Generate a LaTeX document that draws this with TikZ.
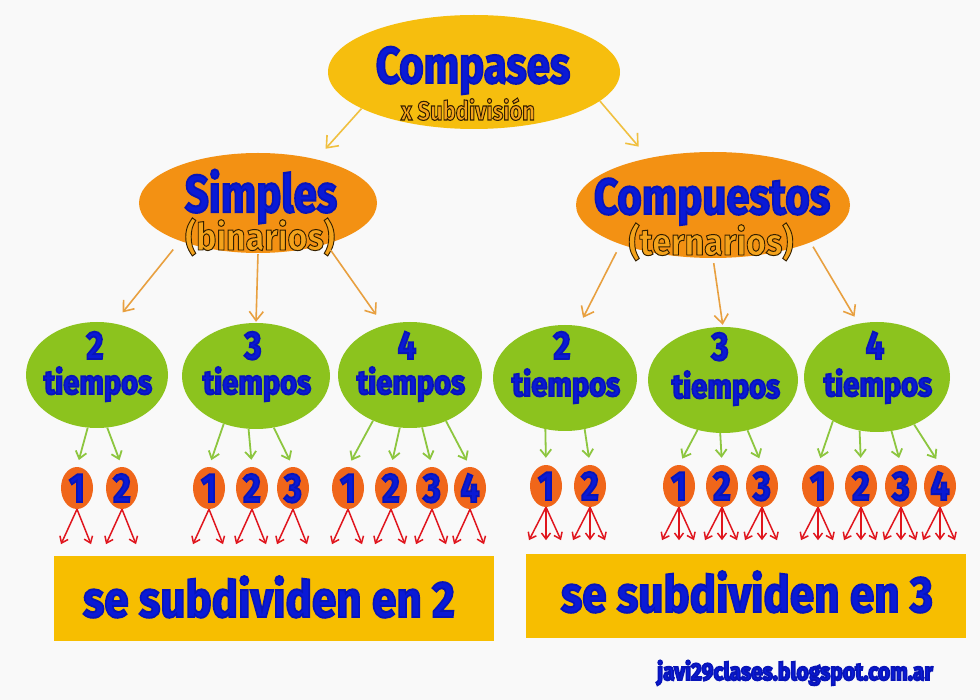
\documentclass[tikz,border=0pt]{standalone}
\usepackage{fontspec}
\setmainfont{Fira Sans}
\usetikzlibrary{arrows.meta,shapes.geometric}
\definecolor{bg}{HTML}{F9F9F9}
\definecolor{ycol}{HTML}{F6BE0E}
\definecolor{ocol}{HTML}{F39113}
\definecolor{gcol}{HTML}{8CC31E}
\definecolor{ccol}{HTML}{F0661A}
\definecolor{boxcol}{HTML}{F7BE00}
\definecolor{tblue}{HTML}{0A1AD6}
\definecolor{suborange}{HTML}{F4A31C}
\definecolor{yarrc}{HTML}{F0C040}
\definecolor{oarrc}{HTML}{E8A040}
\definecolor{garrc}{HTML}{8DC63F}
\definecolor{rarrc}{HTML}{E0161E}
\newcommand\bluetext[2]{\scalebox{1}[#1]{\special{pdf:literal direct 2 Tr 1.6 w 0.03 0.08 0.72 RG}#2\special{pdf:literal direct 0 Tr}}}
\newcommand\subtext[2]{\scalebox{1}[#1]{\special{pdf:literal direct 2 Tr 0.9 w 0.2 0.12 0 RG}#2\special{pdf:literal direct 0 Tr}}}
\tikzset{
  ell/.style={ellipse, inner sep=0pt, draw=none},
  bt/.style={anchor=base, inner sep=0pt, text=tblue, font=\bfseries\fontsize{#1}{#1}\selectfont},
  sbt/.style={anchor=base, inner sep=0pt, text=suborange, font=\bfseries\fontsize{#1}{#1}\selectfont},
  yarr/.style={draw=yarrc, line width=1.6pt, -{Straight Barb[length=10pt,width=16pt]}},
  oarr/.style={draw=oarrc, line width=1.6pt, -{Straight Barb[length=9pt,width=14pt]}},
  garr/.style={draw=garrc, line width=1.8pt, -{Straight Barb[length=7pt,width=11pt]}},
  rarr/.style={draw=rarrc, line width=1.5pt, -{Straight Barb[length=6pt,width=9pt]}},
  tie/.style={ell, fill=gcol, minimum width=#1, minimum height=106},
  num/.style={ell, fill=ccol, minimum width=32, minimum height=42},
  box/.style={rectangle, fill=boxcol, inner sep=0pt, minimum width=440}
}
\begin{document}
\begin{tikzpicture}[x=1pt,y=-1pt]
\path[use as bounding box, fill=bg] (0,0) rectangle (980,700);

% main ellipses
\node[ell, fill=ycol, minimum width=292, minimum height=114] (comp) at (474,72) {};
\node[ell, fill=ocol, minimum width=238, minimum height=100] (simp) at (258,203) {};
\node[ell, fill=ocol, minimum width=274, minimum height=106] (comps) at (713,205) {};

\node[bt=42] (tcomp) at (473,83) {\bluetext{1.22}{Compases}};
\node[sbt=22] (tsub) at (468,120) {\subtext{1.2}{x Subdivisión}};
\node[bt=42] (tsimp) at (261,212) {\bluetext{1.25}{Simples}};
\node[sbt=34] (tbin) at (260,250) {\subtext{1.1}{(binarios)}};
\node[bt=42] (tcomps) at (712,214) {\bluetext{1.2}{Compuestos}};
\node[sbt=34] (tter) at (711,255) {\subtext{1.1}{(ternarios)}};

% tiempos ellipses
\node[tie=142] (t1) at (97,375) {};
\node[tie=148] (t2) at (256,376) {};
\node[tie=144] (t3) at (410,375) {};
\node[tie=144] (u1) at (565,378) {};
\node[tie=150] (u2) at (723,380) {};
\node[tie=146, minimum height=110] (u3) at (877,377) {};

\foreach \n/\x/\d/\y in {t1/95/2/359, t2/253/3/359, t3/407/4/359, u1/562/2/359, u2/720/3/360, u3/875/4/359}{
  \node[bt=33] (\n-d) at (\x,\y) {\bluetext{1.2}{\d}};
}
\foreach \n/\x/\y in {t1/98/394, t2/257/394, t3/411/394, u1/566/396, u2/726/398, u3/878/396}{
  \node[bt=29] (\n-t) at (\x,\y) {\bluetext{1.15}{tiempos}};
}

% numbered circles
\foreach \n/\x/\d in {a1/77/1, a2/122/2, b1/209/1, b2/252/2, b3/293/3, c1/348/1, c2/391/2, c3/432/3, c4/470/4}{
  \node[num] (\n) at (\x,488) {};
  \node[bt=34] (\n-n) at (\x,502) {\bluetext{1.2}{\d}};
}
\foreach \n/\x/\d in {d1/546/1, d2/590/2, e1/679/1, e2/722/2, e3/762/3, f1/818/1, f2/861/2, f3/901/3, f4/940/4}{
  \node[num] (\n) at (\x,486) {};
  \node[bt=34] (\n-n) at (\x,500) {\bluetext{1.2}{\d}};
}

% bottom boxes
\node[box, minimum height=85] (boxl) at (274,598.5) {};
\node[box, minimum height=84] (boxr) at (746,596) {};
\node[bt=44] (tboxl) at (269,617) {\bluetext{1.15}{se subdividen en 2}};
\node[bt=44] (tboxr) at (747,612) {\bluetext{1.15}{se subdividen en 3}};
\node[bt=21] (web) at (795,680) {\bluetext{1.15}{javi29clases.blogspot.com.ar}};

% top arrows
\draw[yarr, shorten >=14pt] (comp.198) -- (simp.37);
\draw[yarr, shorten >=15pt] (comp.347) -- (comps.144);

% orange arrows
\draw[oarr, shorten <=11pt, shorten >=14pt] (simp.206) -- (t1.72);
\draw[oarr, shorten <=1pt, shorten >=1pt] (simp.south) -- (t2.north);
\draw[oarr, shorten <=7pt, shorten >=13pt] (simp.329) -- (t3.118);
\draw[oarr, shorten <=9pt, shorten >=9pt] (comps.203) -- (u1.75);
\draw[oarr, shorten <=5pt, shorten >=2pt] (comps.south) -- (u2.north);
\draw[oarr, shorten <=5pt, shorten >=8pt] (comps.339) -- (u3.109);

% green arrows
\foreach \s/\a/\t in {t1/260/a1, t1/281/a2, t2/236/b1, t2/262/b2, t2/289/b3,
  t3/231/c1, t3/259/c2, t3/283/c3, t3/308/c4, u1/249/d1, u1/291/d2,
  u2/243/e1, u2/267/e2, u2/296/e3, u3/225/f1, u3/252/f2, u3/285/f3, u3/308/f4}{
  \draw[garr, shorten >=7pt] (\s.\a) -- (\t.north);
}

% red arrows
\foreach \n in {a1,a2,b1,b2,b3,c1,c2,c3,c4}{
  \coordinate (\n-l) at ([shift={(-16,35)}]\n.south);
  \coordinate (\n-r) at ([shift={(14,35)}]\n.south);
  \draw[rarr] (\n.south) -- (\n-l);
  \draw[rarr] (\n.south) -- (\n-r);
}
\foreach \n in {d1,d2,e1,e2,e3,f1,f2,f3,f4}{
  \coordinate (\n-l) at ([shift={(-17,33)}]\n.south);
  \coordinate (\n-m) at ([shift={(0,33)}]\n.south);
  \coordinate (\n-r) at ([shift={(15,33)}]\n.south);
  \draw[rarr] (\n.south) -- (\n-l);
  \draw[rarr] (\n.south) -- (\n-m);
  \draw[rarr] (\n.south) -- (\n-r);
}
\end{tikzpicture}
\end{document}
